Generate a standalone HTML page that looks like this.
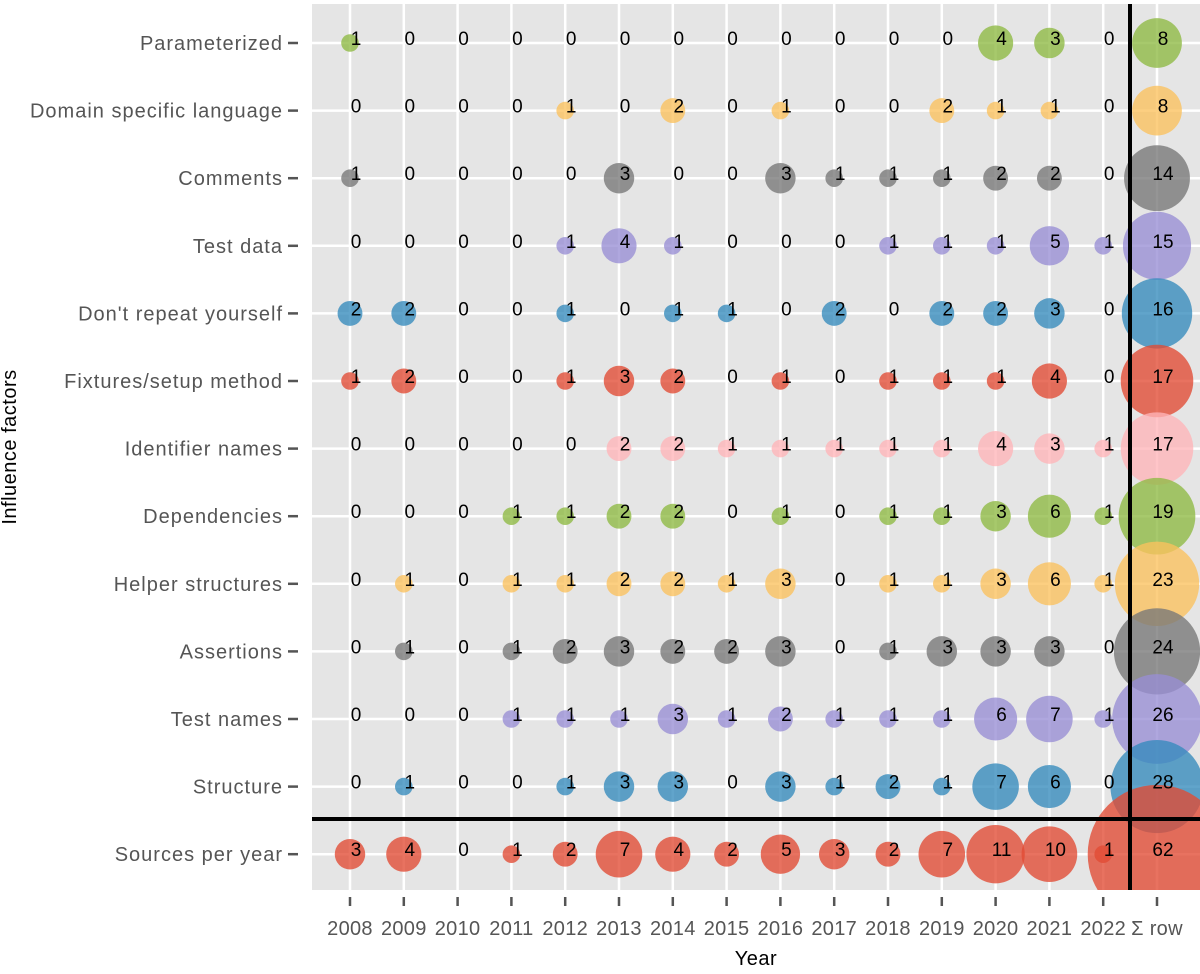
<!DOCTYPE html>
<html><head><meta charset="utf-8"><style>
body{margin:0;background:#fff;}
svg text{font-family:"Liberation Sans",sans-serif;}
</style></head><body>
<svg id="chart" width="1200" height="969" xmlns="http://www.w3.org/2000/svg">
<defs><clipPath id="pc"><rect x="312" y="4" width="888" height="886"/></clipPath></defs>
<rect x="312" y="4" width="888" height="886" fill="#e5e5e5"/>
<g id="grid"></g>
<g id="bubbles" clip-path="url(#pc)"></g>
<g id="labels"></g>
<line x1="1130" y1="4" x2="1130" y2="890" stroke="#000" stroke-width="4"/>
<line x1="312" y1="819" x2="1200" y2="819" stroke="#000" stroke-width="4"/>
<g id="axes"></g>
<text x="756" y="965" font-size="20" fill="#000" text-anchor="middle" letter-spacing="0.5">Year</text>
<text transform="translate(16,447) rotate(-90)" font-size="20" fill="#000" text-anchor="middle" letter-spacing="0.5">Influence factors</text>
</svg>
<script>
const years = ["2008","2009","2010","2011","2012","2013","2014","2015","2016","2017","2018","2019","2020","2021","2022","Σ row"];
const rowNames = ["Parameterized","Domain specific language","Comments","Test data","Don't repeat yourself","Fixtures/setup method","Identifier names","Dependencies","Helper structures","Assertions","Test names","Structure","Sources per year"];
const rowColors = ["#8EBA42","#FBC15E","#777777","#988ED5","#348ABD","#E24A33","#FFB5B8","#8EBA42","#FBC15E","#777777","#988ED5","#348ABD","#E24A33"];
const vParam = [1,0,0,0,0,0,0,0,0,0,0,0,4,3,0,8];
const vDSL = [0,0,0,0,1,0,2,0,1,0,0,2,1,1,0,8];
const vComments = [1,0,0,0,0,3,0,0,3,1,1,1,2,2,0,14];
const vTestData = [0,0,0,0,1,4,1,0,0,0,1,1,1,5,1,15];
const vDRY = [2,2,0,0,1,0,1,1,0,2,0,2,2,3,0,16];
const vFixtures = [1,2,0,0,1,3,2,0,1,0,1,1,1,4,0,17];
const vIdent = [0,0,0,0,0,2,2,1,1,1,1,1,4,3,1,17];
const vDeps = [0,0,0,1,1,2,2,0,1,0,1,1,3,6,1,19];
const vHelper = [0,1,0,1,1,2,2,1,3,0,1,1,3,6,1,23];
const vAssert = [0,1,0,1,2,3,2,2,3,0,1,3,3,3,0,24];
const vTestNames = [0,0,0,1,1,1,3,1,2,1,1,1,6,7,1,26];
const vStructure = [0,1,0,0,1,3,3,0,3,1,2,1,7,6,0,28];
const vSources = [3,4,0,1,2,7,4,2,5,3,2,7,11,10,1,62];
const values = [vParam,vDSL,vComments,vTestData,vDRY,vFixtures,vIdent,vDeps,vHelper,vAssert,vTestNames,vStructure,vSources];

const NS="http://www.w3.org/2000/svg";
const xS = i => 350 + i*53.8;
const yS = j => 43 + j*67.6;
const rS = v => 8.8*Math.sqrt(v);
function mk(tag, attrs, parent){const e=document.createElementNS(NS,tag);for(const k in attrs)e.setAttribute(k,attrs[k]);parent.appendChild(e);return e;}
const grid=document.getElementById('grid'), bub=document.getElementById('bubbles'), lab=document.getElementById('labels'), ax=document.getElementById('axes');
years.forEach((y,i)=>{
  const l=mk('line',{x1:xS(i),x2:xS(i),y1:4,y2:890,stroke:'#fff','stroke-width':2.5},grid);
  
  
  const t=mk('line',{x1:xS(i),x2:xS(i),y1:897,y2:906,stroke:'#555','stroke-width':2.5},ax);
  
  
  const tx=mk('text',{x:xS(i),y:935,'font-size':20,fill:'#555','text-anchor':'middle','letter-spacing':0.3},ax);
  tx.textContent=y;
  
  
});
rowNames.forEach((n,j)=>{
  const l=mk('line',{x1:312,x2:1200,y1:yS(j),y2:yS(j),stroke:'#fff','stroke-width':2.5},grid);
  
  
  const t=mk('line',{x1:288,x2:298,y1:yS(j),y2:yS(j),stroke:'#555','stroke-width':2.5},ax);
  
  
  const tx=mk('text',{x:283,y:yS(j)+7,'font-size':20,fill:'#555','text-anchor':'end','letter-spacing':1},ax);
  tx.textContent=n;
  
  
  values[j].forEach((v,i)=>{
    if(v>0){
      const c=mk('circle',{cx:xS(i),cy:yS(j),r:rS(v),fill:rowColors[j],'fill-opacity':0.78},bub);
      
      
    }
    const tt=mk('text',{x:xS(i)+6,y:yS(j)+2,'font-size':19,fill:'#000','text-anchor':'middle'},lab);
    tt.textContent=v;
    
    
  });
});
</script>
</body></html>
